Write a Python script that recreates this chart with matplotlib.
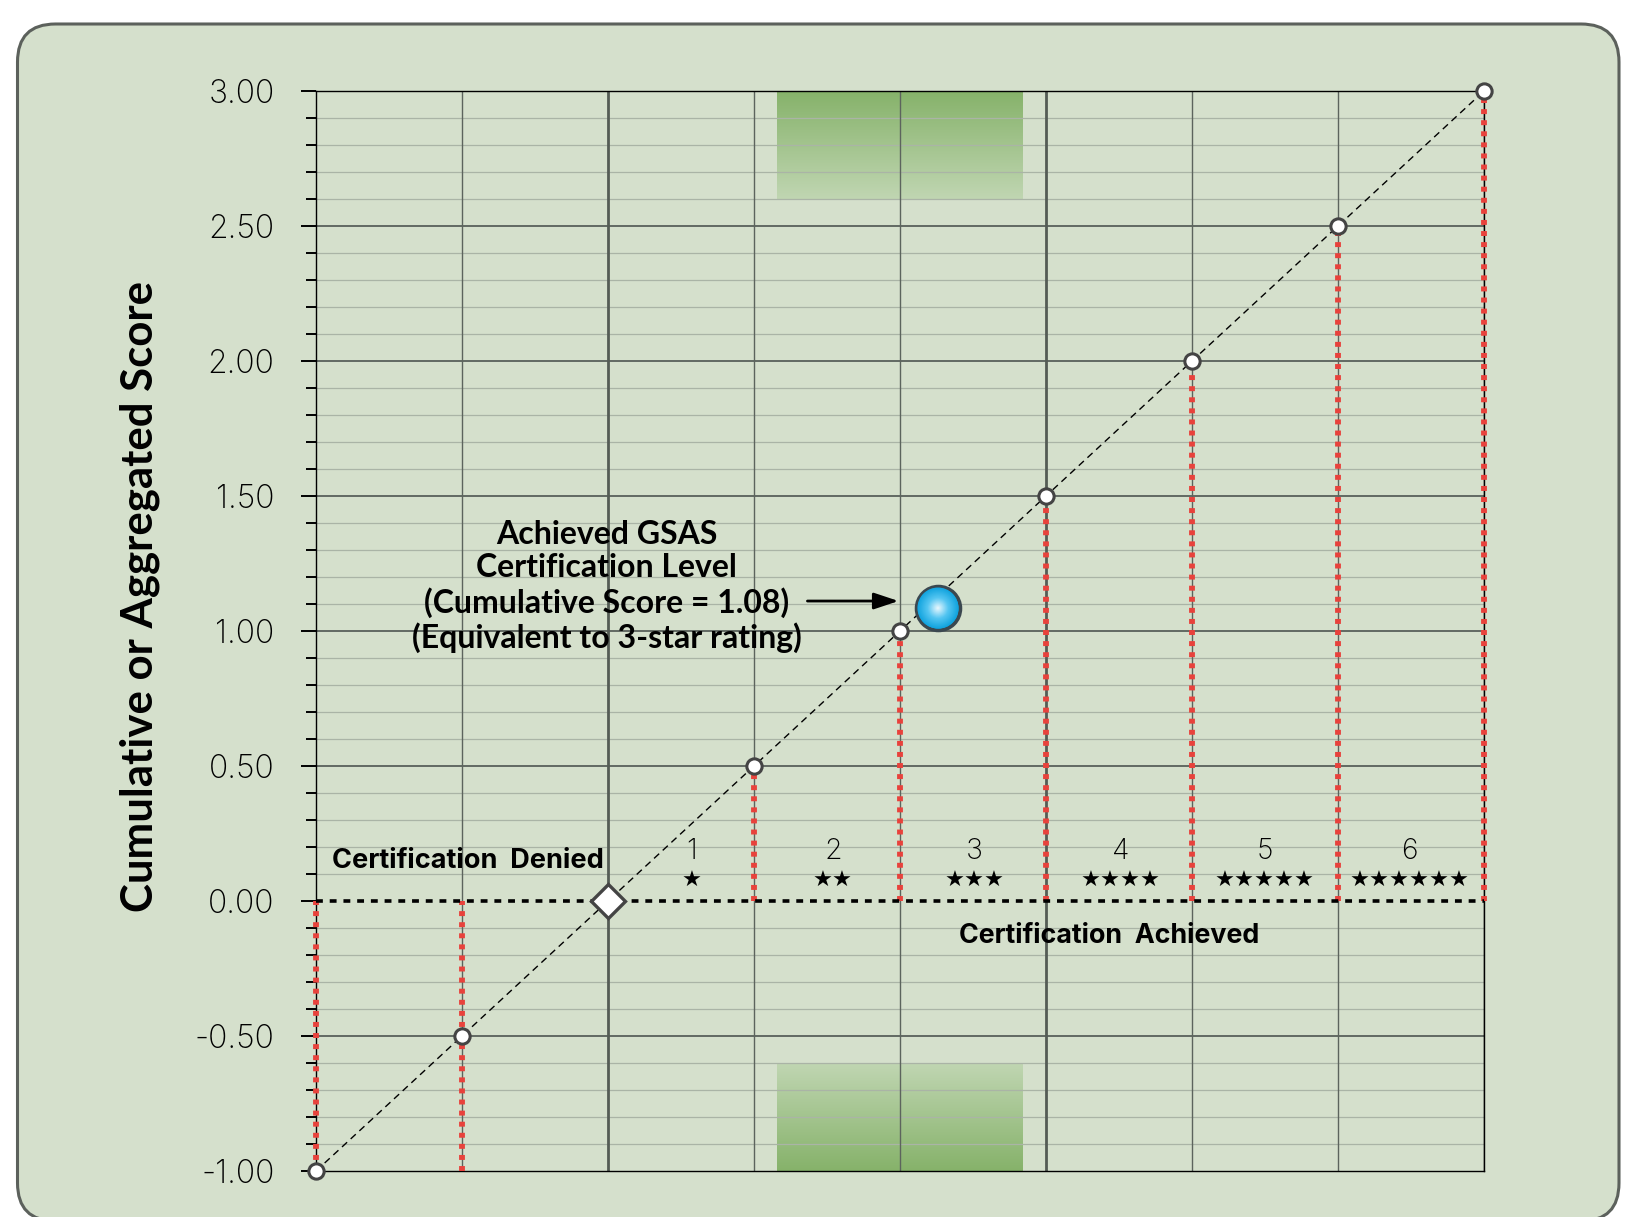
import matplotlib
matplotlib.use('Agg')
import matplotlib.pyplot as plt
import numpy as np
from matplotlib.patches import FancyBboxPatch
from matplotlib.transforms import IdentityTransform
from matplotlib.colors import to_rgb

plt.rcParams['font.family'] = ['Lato', 'DejaVu Sans']

# ---------------- data ----------------
score_levels = [-1.0, -0.5, 0.0, 0.5, 1.0, 1.5, 2.0, 2.5, 3.0]
circle_x = [-1.0, -0.5, 0.5, 1.0, 1.5, 2.0, 2.5, 3.0]
circle_y = [-1.0, -0.5, 0.5, 1.0, 1.5, 2.0, 2.5, 3.0]
threshold_x = [0.0]
threshold_y = [0.0]
drop_x = [-1.0, -0.5, 0.5, 1.0, 1.5, 2.0, 2.5, 3.0]
drop_low = [-1.0, -1.0, 0.0, 0.0, 0.0, 0.0, 0.0, 0.0]
drop_high = [0.0, 0.0, 0.5, 1.0, 1.5, 2.0, 2.5, 3.0]
star_labels = ['1', '2', '3', '4', '5', '6']
star_counts = [1, 2, 3, 4, 5, 6]
band_lo = [0.0, 0.5, 1.0, 1.5, 2.0, 2.5]
band_hi = [0.5, 1.0, 1.5, 2.0, 2.5, 3.0]
achieved_x = [1.13]
achieved_y = [1.085]
achieved_text = ('Achieved GSAS\nCertification Level\n'
                 '(Cumulative Score = 1.08)\n(Equivalent to 3-star rating)')
green_x = [0.58, 1.42]
green_top_y = [2.6, 3.0]
green_bot_y = [-1.0, -0.6]

BG = '#D5E0CC'

fig = plt.figure(figsize=(16.25, 12.17), dpi=100)
panel = FancyBboxPatch((17.5, -4), 1601.5, 1197,
                       boxstyle="round,pad=0,rounding_size=38",
                       transform=IdentityTransform(), fc=BG, ec='#5C615C',
                       lw=2.2, zorder=-1)
fig.add_artist(panel)

ax = fig.add_axes([316 / 1625, 1 - 1171 / 1217, (1484 - 316) / 1625, (1171 - 91) / 1217])
ax.set_facecolor('none')

for s in ax.spines.values():
    s.set_color('black')
    s.set_linewidth(1.0)
    s.set_zorder(2)

# gradient boxes
def grad_box(xr, yr, dark_top):
    dark = np.array(to_rgb('#86B26A'))
    light = np.array(to_rgb('#C0D6B2'))
    t = np.linspace(0, 1, 128)[:, None]
    if dark_top:
        cols = dark * (1 - t) + light * t   # row 0 at top (origin upper)
    else:
        cols = light * (1 - t) + dark * t
    img = np.repeat(cols[:, None, :], 2, axis=1)
    ax.imshow(img, extent=[xr[0], xr[1], yr[0], yr[1]], aspect='auto',
              origin='upper', zorder=0.5, interpolation='bilinear')

grad_box(green_x, green_top_y, True)
grad_box(green_x, green_bot_y, False)
ax.set_xlim(-1, 3)
ax.set_ylim(-1, 3)

# horizontal grid
yminor = np.round(np.arange(-1.0, 3.001, 0.1), 2)
for y in yminor:
    if y in (-1.0, 0.0, 3.0):
        continue
    if abs(y * 2 - round(y * 2)) < 1e-6:
        ax.axhline(y, color='#58605A', lw=1.3, zorder=1.1)
    else:
        ax.axhline(y, color='#AAB4A6', lw=0.9, zorder=1)

# vertical grid
for x in score_levels[1:-1]:
    if x in (0.0, 1.5):
        ax.axvline(x, color='#545C55', lw=2.0, zorder=1.2)
    else:
        ax.axvline(x, color='#5C645D', lw=1.0, zorder=1.2)
ax.axvline(3.0, color='black', lw=1.0, zorder=1.2)

# red dotted drop lines
for xv, lo, hi in zip(drop_x, drop_low, drop_high):
    ax.plot([xv, xv], [lo, hi], color='#E8423C', lw=4.2,
            linestyle=(0, (0.85, 1.05)), dash_capstyle='butt', zorder=3,
            clip_on=False)

# dotted horizontal at zero
ax.plot([score_levels[0], score_levels[-1]], [0, 0], color='black', lw=2.6,
        linestyle=(0, (1.9, 1.9)), zorder=3.2, dash_capstyle='butt')

# diagonal dashed line
ax.plot([score_levels[0], score_levels[-1]], [score_levels[0], score_levels[-1]],
        color='black', lw=1.0, linestyle=(0, (5, 3.5)), zorder=3.5)

# markers
ax.plot(circle_x, circle_y, 'o', ms=11, mfc='white', mec='#444444', mew=2.2,
        zorder=6, clip_on=False, linestyle='none')
ax.plot(threshold_x, threshold_y, 'D', ms=17, mfc='white', mec='#444444', mew=2.4,
        zorder=6, clip_on=False, linestyle='none')

# achieved bubble with radial gradient
outer = np.array(to_rgb('#0EA2DE'))
mid = np.array(to_rgb('#55C6F2'))
inner = np.array(to_rgb('#EEF9FE'))
S = 1000
ax.scatter(achieved_x, achieved_y, s=S, c=[outer], edgecolors='#3B4850',
           linewidths=2.6, zorder=7)
n = 40
for i in range(1, n):
    f = 1 - i / n
    if f > 0.5:
        c = outer * ((f - 0.5) / 0.5) + mid * (1 - (f - 0.5) / 0.5)
    else:
        c = mid * (f / 0.5) + inner * (1 - f / 0.5)
    ax.scatter(achieved_x, achieved_y, s=S * 0.92 * f ** 2, c=[c],
               edgecolors='none', zorder=7 + i * 0.001)

# annotation
ax.text(-0.005, 1.165, achieved_text, ha='center', va='center', fontsize=23,
        fontweight='bold', linespacing=1.18, zorder=8)
ax.annotate('', xy=(0.995, 1.111), xytext=(0.683, 1.111),
            arrowprops=dict(arrowstyle='-|>,head_length=1.5,head_width=0.5',
                            color='black', lw=2.0, shrinkA=0, shrinkB=0), zorder=8)

# star ratings
nudge = [0.035, 0.02, 0.005, 0.005, 0.0, -0.005]
for lab, cnt, lo, hi, nd in zip(star_labels, star_counts, band_lo, band_hi, nudge):
    xc = (lo + hi) / 2 + nd
    ax.text(xc, 0.185, lab, ha='center', va='center', fontsize=20.5,
            family=['Inter', 'DejaVu Sans'], fontweight='light', zorder=8)
    ax.text(xc, 0.075, '\u2605' * cnt, ha='center', va='center', fontsize=16,
            family=['DejaVu Sans'], zorder=8)

ax.text(-0.48, 0.147, 'Certification  Denied', ha='center', va='center',
        fontsize=19.5, fontweight='bold', family=['Inter', 'DejaVu Sans'], zorder=8)
ax.text(1.717, -0.13, 'Certification  Achieved', ha='center', va='center',
        fontsize=19.3, fontweight='bold', family=['Inter', 'DejaVu Sans'], zorder=8)

# ticks
ax.set_xticks([])
ax.set_yticks(score_levels)
ax.set_yticks(yminor, minor=True)
ax.set_yticklabels([f'{v:.2f}' for v in score_levels])
ax.tick_params(axis='y', which='major', length=10.8, width=1.4, direction='out',
               labelsize=23, pad=19, colors='black')
ax.tick_params(axis='y', which='minor', length=7.2, width=1.4, direction='out')
for t in ax.get_yticklabels():
    t.set_family(['Inter', 'DejaVu Sans'])
    t.set_fontweight('light')

fig.text(140 / 1625, 1 - 597 / 1217, 'Cumulative or Aggregated Score', rotation=90,
         ha='center', va='center', fontsize=31.5, fontweight='bold')

fig.savefig('out.png', dpi=100, facecolor='white')
